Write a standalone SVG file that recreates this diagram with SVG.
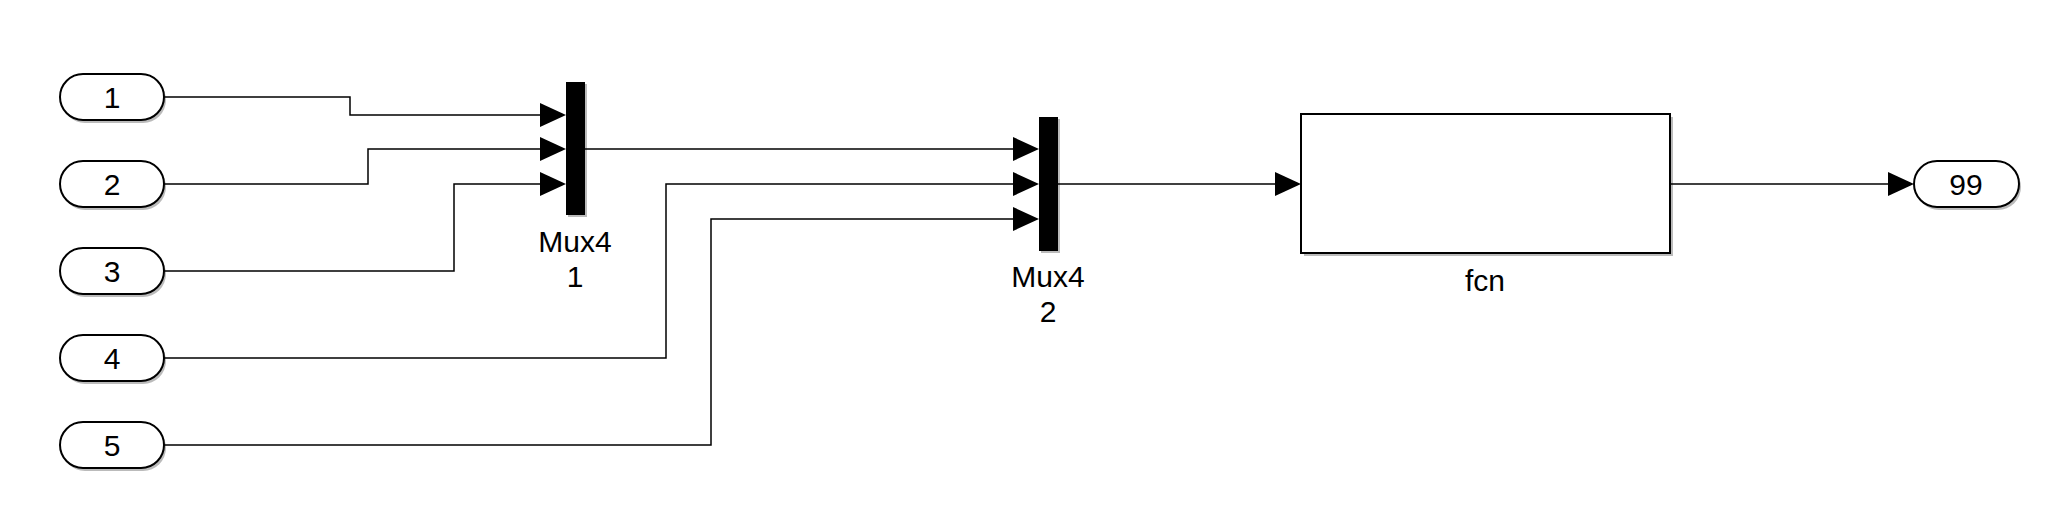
<svg xmlns="http://www.w3.org/2000/svg" width="2046" height="514" viewBox="0 0 2046 514">
<style>
.port{fill:#fff;stroke:#000;stroke-width:2}
.sh{fill:#bbb}
.t{font-family:"Liberation Sans",Arial,sans-serif;font-size:30px;text-anchor:middle;fill:#000}
.w{fill:none;stroke:#000;stroke-width:1.5}
.ah{fill:#000}
</style>
<g id="in1"><rect class="sh" x="62" y="77" width="104" height="46" rx="23"/><rect class="port" x="60" y="74" width="104" height="46" rx="23"/><text class="t" x="112" y="108">1</text></g>
<g id="in2"><rect class="sh" x="62" y="164" width="104" height="46" rx="23"/><rect class="port" x="60" y="161" width="104" height="46" rx="23"/><text class="t" x="112" y="195">2</text></g>
<g id="in3"><rect class="sh" x="62" y="251" width="104" height="46" rx="23"/><rect class="port" x="60" y="248" width="104" height="46" rx="23"/><text class="t" x="112" y="282">3</text></g>
<g id="in4"><rect class="sh" x="62" y="338" width="104" height="46" rx="23"/><rect class="port" x="60" y="335" width="104" height="46" rx="23"/><text class="t" x="112" y="369">4</text></g>
<g id="in5"><rect class="sh" x="62" y="425" width="104" height="46" rx="23"/><rect class="port" x="60" y="422" width="104" height="46" rx="23"/><text class="t" x="112" y="456">5</text></g>
<g id="mux1"><rect class="sh" x="568" y="84" width="19" height="133"/><rect x="566" y="82" width="19" height="133" fill="#000"/><text class="t" x="575" y="252">Mux4</text><text class="t" x="575" y="287">1</text></g>
<g id="mux2"><rect class="sh" x="1041" y="119" width="19" height="134"/><rect x="1039" y="117" width="19" height="134" fill="#000"/><text class="t" x="1048" y="287">Mux4</text><text class="t" x="1048" y="322">2</text></g>
<g id="fcn"><rect class="sh" x="1304" y="117" width="369" height="139"/><rect x="1301" y="114" width="369" height="139" fill="#fff" stroke="#000" stroke-width="2"/><text class="t" x="1485" y="291">fcn</text></g>
<g id="out99"><rect class="sh" x="1916" y="164" width="105" height="46" rx="23"/><rect class="port" x="1914" y="161" width="105" height="46" rx="23"/><text class="t" x="1966" y="195">99</text></g>
<g id="connectors">
<polyline class="w" points="164,97 350,97 350,115 542,115"/>
<polyline class="w" points="164,184 368,184 368,149 542,149"/>
<polyline class="w" points="164,271 454,271 454,184 542,184"/>
<polyline class="w" points="585,149 1015,149"/>
<polyline class="w" points="164,358 666,358 666,184 1015,184"/>
<polyline class="w" points="164,445 711,445 711,219 1015,219"/>
<polyline class="w" points="1058,184 1277,184"/>
<polyline class="w" points="1670,184 1890,184"/>
<polygon class="ah" points="540,103 566,115 540,127"/>
<polygon class="ah" points="540,137 566,149 540,161"/>
<polygon class="ah" points="540,172 566,184 540,196"/>
<polygon class="ah" points="1013,137 1039,149 1013,161"/>
<polygon class="ah" points="1013,172 1039,184 1013,196"/>
<polygon class="ah" points="1013,207 1039,219 1013,231"/>
<polygon class="ah" points="1275,172 1301,184 1275,196"/>
<polygon class="ah" points="1888,172 1914,184 1888,196"/>
</g>
</svg>
